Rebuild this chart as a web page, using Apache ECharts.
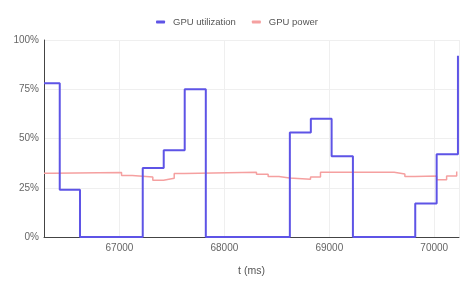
<!DOCTYPE html>
<html><head><meta charset="utf-8">
<script src="https://cdn.jsdelivr.net/npm/echarts@6/dist/echarts.min.js"></script>
<style>html,body{margin:0;padding:0;background:#fff}#c{width:474px;height:293px}</style>
</head><body><div id="c"></div>
<script>
// GPU utilization (%) samples: [t ms, value]
const utilTimes  = [66281, 66431, 66624, 67222, 67422, 67622, 67823, 68624, 68824, 69022, 69225, 69819, 70023, 70226];
const utilValues = [78, 24, 0, 35, 44, 75, 0, 53, 60, 41, 0, 17, 42, 92];
// GPU power (%) samples
const powerTimes  = [66281, 66360, 67020, 67122, 67318, 67420, 67522, 67620, 68306, 68417, 68520, 68620, 68821, 68916, 69618, 69720, 69816, 70023, 70118, 70214];
const powerValues = [32.4, 32.7, 31.2, 30.5, 28.8, 29.8, 32.2, 32.9, 31.8, 30.7, 30.0, 29.3, 30.5, 32.9, 32.0, 30.7, 31.0, 29.0, 31.0, 33.2];
const yTicks = [0, 25, 50, 75, 100];
const xMin = 66281, xMax = 70236;

const utilData = utilTimes.map((t, i) => [t, utilValues[i]]);
const powerData = powerTimes.map((t, i) => [t, powerValues[i]]);
const font = 'Liberation Sans, Arial, sans-serif';

const chart = echarts.init(document.getElementById('c'), null, {renderer: 'canvas'});
chart.setOption({
  animation: false,
  textStyle: {fontFamily: font},
  legend: {
    top: 12, left: 'center', itemGap: 16,
    icon: 'roundRect', itemWidth: 9, itemHeight: 3,
    textStyle: {fontSize: 9.5, color: '#555', fontFamily: font, padding: [0, 0, 0, 3]},
    data: ['GPU utilization', 'GPU power']
  },
  grid: {left: 44, right: 15, top: 40, bottom: 56},
  xAxis: {
    type: 'value', min: xMin, max: xMax,
    name: 't (ms)', nameLocation: 'middle', nameGap: 29,
    nameTextStyle: {fontSize: 10.5, color: '#555', fontFamily: font},
    axisLine: {show: true, lineStyle: {color: '#444', width: 1}},
    axisTick: {show: false},
    axisLabel: {fontSize: 10, color: '#666', fontFamily: font, showMinLabel: false, showMaxLabel: false, margin: 6,
      formatter: v => String(v)},
    splitLine: {show: true, lineStyle: {color: '#efefef', width: 1}}
  },
  yAxis: {
    type: 'value', min: yTicks[0], max: yTicks[yTicks.length - 1], interval: 25,
    axisLine: {show: true, lineStyle: {color: '#444', width: 1}},
    axisTick: {show: false},
    axisLabel: {fontSize: 10, color: '#666', fontFamily: font, formatter: '{value}%', margin: 5},
    splitLine: {show: true, lineStyle: {color: '#efefef', width: 1}}
  },
  series: [
    {
      name: 'GPU utilization', type: 'line', step: 'end', data: utilData,
      showSymbol: false, symbol: 'none',
      lineStyle: {color: '#5e54e6', width: 2},
      itemStyle: {color: '#5e54e6'}, z: 3
    },
    {
      name: 'GPU power', type: 'line', step: 'end', data: powerData,
      showSymbol: false, symbol: 'none',
      lineStyle: {color: '#f5a0a0', width: 1.5},
      itemStyle: {color: '#f5a0a0'}, z: 2
    }
  ]
});
</script></body></html>
